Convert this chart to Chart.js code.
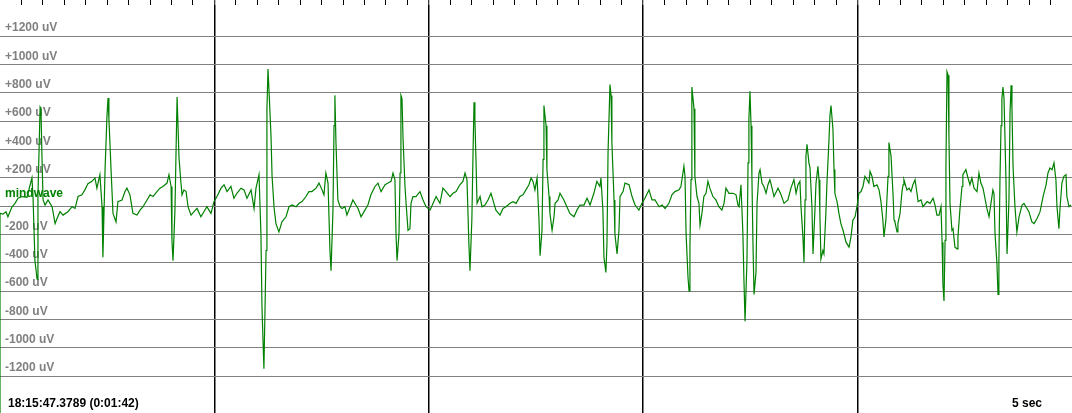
<!DOCTYPE html>
<html>
<head>
<meta charset="utf-8">
<title>mindwave</title>
<script src="https://cdn.jsdelivr.net/npm/chart.js@4/dist/chart.umd.min.js"></script>
<style>
  html, body { margin: 0; padding: 0; background: #fff; }
  #wrap { width: 1072px; height: 413px; position: relative; }
</style>
</head>
<body>
<div id="wrap"><canvas id="eeg"></canvas></div>
<script>
// sample times (ms from left edge of the 5 s window)
const timesMs = [
  0,0,14,28,37,56,70,84,103,126,149,154,163,173,177,187,191,196,201,210,224,243,257,266,280,294,317,336,350,364,
  382,396,410,429,443,452,466,476,480,490,499,504,508,518,527,541,550,569,583,592,606,620,639,653,667,686,700,714,732,746,
  760,779,788,798,802,807,816,821,826,
  835,844,849,858,868,877,891,905,919,937,951,965,984,998,1012,1031,1045,1059,1077,1091,1105,1124,1138,1152,1171,1185,
  1194,1208,1217,1222,1231,1241,1245,1250,1255,1264,1269,1278,1287,1301,1315,1334,1348,1362,1381,1395,1409,1427,1441,1455,
  1474,1488,1502,1511,1520,1530,1539,1544,1553,1558,1562,1567,1576,1586,1595,1609,1618,1637,1646,1660,
  1670,1684,1702,1716,1730,1749,1763,1777,1796,1810,1824,1833,1842,1847,1852,1861,1866,1870,1875,1880,1889,1894,1903,1912,
  1917,1926,1940,1959,1973,1987,2006,2020,2034,2052,2066,2080,2099,2113,2127,2145,2159,2169,2178,2187,2192,2201,2206,2211,
  2215,2220,2225,2239,2248,2262,2276,2290,2299,2313,2332,2346,2360,2379,2393,2407,2425,2439,2453,2467,2477,2486,2495,2505,
  2514,2519,2528,2533,2537,2547,2551,2561,2565,2575,2584,2589,2603,2612,2630,2644,2658,2677,2691,2705,2724,2738,2752,2770,
  2784,2798,2803,2812,2817,2826,2831,2836,2845,2850,2854,2864,2868,2878,2887,2892,2906,2915,2934,2948,2962,2980,2994,3008,
  3027,3041,3055,3074,3088,3102,3120,3134,3148,3167,3176,3190,3195,3200,3209,3214,3218,3223,3227,3237,3241,3251,3260,3265,
  3274,3283,3293,3302,3311,3325,3339,
  3353,3367,3377,3386,3400,3419,3433,3442,3447,3456,3465,3470,3475,3484,3489,3493,3498,3503,3507,3512,3517,3526,3531,3540,
  3545,3554,3563,3573,3582,3591,3601,3610,3629,3643,3657,3675,3689,3703,3713,3722,3731,3736,3745,3750,3755,3759,3764,3773,
  3778,3787,3792,3801,3806,3815,3820,3824,3829,3838,3843,3852,3857,3866,3871,3876,3885,3890,3894,3904,3913,3922,3932,3946,
  3960,3969,3978,3988,3997,4006,4016,4025,4034,4044,4053,4058,4067,4076,4090,4100,4109,4118,4123,4132,4142,4146,4156,4165,4170,
  4174,4184,4188,4198,4207,4212,4216,4230,4240,4249,4258,4268,4277,4282,4296,4305,4324,4338,4352,4361,4370,4380,4389,4394,
  4398,4403,4408,4412,4417,4422,4426,4431,4440,4445,4454,4464,4468,4477,4487,4491,4505,4515,4524,4533,4543,4557,4566,4575,
  4585,4594,4603,4613,4622,4631,4636,4641,4650,4655,4659,4664,4669,4673,4678,4683,4692,4697,4706,4711,4716,4720,4725,4734,
  4743,4753,4767,4776,4790,4799,4813,4823,4837,4851,4865,4879,4888,4897,4907,4916,4925,4930,4939,4944,4953,4962,4972,4976,
  4986,4995
];

// raw signal (uV)
const microvolts = [
  -1800,-52,-57,-40,-76,-5,19,55,67,62,198,67,-386,-517,67,698,686,329,43,7,43,-5,-124,-88,-40,-64,-40,-5,-17,67,
  79,114,157,174,198,126,221,-5,-362,257,638,762,614,257,-52,-112,31,43,102,126,79,-52,-64,-29,-5,43,79,67,102,126,
  138,162,221,138,-243,-386,-29,376,769,
  340,162,79,114,102,-5,-64,-40,-17,-76,-40,-5,-52,31,67,126,150,102,138,55,90,126,114,55,114,-17,
  126,221,-195,-719,-1148,-314,686,967,805,495,210,-5,-124,-183,-112,-76,-5,7,-5,19,31,67,102,102,
  126,162,114,79,233,162,-314,-457,-29,567,781,448,43,-5,-17,-5,-64,7,43,7,
  -17,-76,-29,7,79,138,162,102,150,162,174,233,186,-195,-386,-195,233,781,757,471,138,19,-171,-160,
  19,67,67,102,43,-5,-29,19,67,19,126,102,67,90,102,150,174,233,186,-267,-457,-88,352,733,
  614,329,19,67,-5,7,43,90,43,-29,-64,-17,-5,19,31,19,67,79,114,150,198,174,114,198,
  -100,-350,-171,329,710,567,257,67,-52,-171,-76,19,43,90,43,-5,-52,-76,-29,7,7,55,7,90,
  174,138,198,-29,-362,-469,-267,376,857,781,448,43,-195,-338,-171,67,102,162,150,67,7,-29,19,55,
  114,43,43,-5,7,-17,19,79,102,114,138,281,210,-195,-505,-600,-290,186,840,686,210,67,19,-136,
  -52,67,90,174,126,67,43,
  -5,-29,19,126,90,90,79,7,-5,150,-195,-529,-814,-386,305,614,810,567,210,-267,-624,-469,19,233,
  257,162,138,90,150,186,126,67,126,79,19,43,126,186,90,150,174,-5,-219,-398,43,352,436,305,
  269,-5,-338,-29,162,281,186,-52,-374,-314,-338,-52,162,448,638,710,543,257,90,31,-52,-124,-171,-255,
  -290,-219,-100,-76,-5,90,102,138,210,186,162,245,210,138,150,114,31,-100,-219,-100,210,448,352,90,-100,
  -112,-183,-124,-52,102,150,186,114,126,102,150,186,90,31,43,-5,31,19,55,7,-64,-64,-5,-255,
  -552,-671,-243,281,948,924,495,19,-171,-160,-290,-302,-219,-29,138,221,257,198,150,198,126,102,233,162,
  126,55,-17,-76,19,114,90,-195,-410,-624,-386,186,567,757,840,757,186,-338,43,662,852,686,281,-5,
  -183,-76,7,19,-17,-40,-112,-124,-88,-40,67,150,233,269,257,305,186,-5,-160,-17,162,210,221,67,
  -5,7
];

const tickValues = [1200, 1000, 800, 600, 400, 200, 0, -200, -400, -600, -800, -1000, -1200];
const tickLabels = ['+1200 uV', '+1000 uV', '+800 uV', '+600 uV', '+400 uV', '+200 uV', 'mindwave',
                    '-200 uV', '-400 uV', '-600 uV', '-800 uV', '-1000 uV', '-1200 uV'];
const secondMarksMs = [1000, 2000, 3000, 4000];
const footerLeft = '18:15:47.3789 (0:01:42)';
const footerRight = '5 sec';

const FONT = '"Liberation Sans", Arial, sans-serif';
const GREEN = '#008000';
const GREY = '#808080';

const footerText = {
  id: 'footerText',
  afterDraw(chart) {
    const ctx = chart.ctx;
    ctx.save();
    ctx.font = 'bold 12px ' + FONT;
    ctx.fillStyle = '#000';
    ctx.textBaseline = 'alphabetic';
    ctx.textAlign = 'left';
    ctx.fillText(footerLeft, 8, 407);
    ctx.textAlign = 'right';
    ctx.fillText(footerRight, 1042, 407);
    ctx.restore();
  }
};

new Chart(document.getElementById('eeg'), {
  type: 'line',
  data: {
    datasets: [{
      label: 'mindwave',
      data: timesMs.map((t, i) => ({ x: t, y: microvolts[i] })),
      borderColor: GREEN,
      borderWidth: 1.2,
      pointRadius: 0,
      tension: 0,
      fill: false
    }]
  },
  options: {
    responsive: true,
    maintainAspectRatio: false,
    animation: false,
    events: [],
    layout: { padding: 0 },
    plugins: { legend: { display: false }, tooltip: { enabled: false } },
    scales: {
      x: {
        type: 'linear',
        position: 'top',
        min: 0,
        max: 5000,
        afterBuildTicks: s => {
          const t = [];
          for (let v = 100; v < 5000; v += 100) t.push({ value: v });
          s.ticks = t;
        },
        grid: {
          color: c => secondMarksMs.includes(c.tick.value) ? '#000' : 'rgba(0,0,0,0)',
          tickColor: '#000',
          lineWidth: c => secondMarksMs.includes(c.tick.value) ? 1.5 : 1,
          tickWidth: 1,
          tickLength: 5,
          drawTicks: true
        },
        border: { display: false },
        ticks: { display: false }
      },
      y: {
        type: 'linear',
        position: 'left',
        min: -1461,
        max: 1419,
        afterBuildTicks: s => { s.ticks = tickValues.map(v => ({ value: v })); },
        afterFit: s => { s.width = 0; s.paddingTop = 0; s.paddingBottom = 0; },
        grid: { color: GREY, lineWidth: 1, drawTicks: false },
        border: { display: false },
        ticks: {
          mirror: true,
          padding: 5,
          labelOffset: -8,
          font: c => ({
            family: FONT, size: 12, weight: 'bold',
            lineHeight: (c.tick && c.tick.value === 0) ? '9px' : 1.2
          }),
          color: c => c.tick.value === 0 ? GREEN : GREY,
          // the channel name sits a little higher than the uV labels
          callback: v => v === 0 ? ['mindwave', ''] : tickLabels[tickValues.indexOf(v)]
        }
      }
    }
  },
  plugins: [footerText]
});
</script>
</body>
</html>
